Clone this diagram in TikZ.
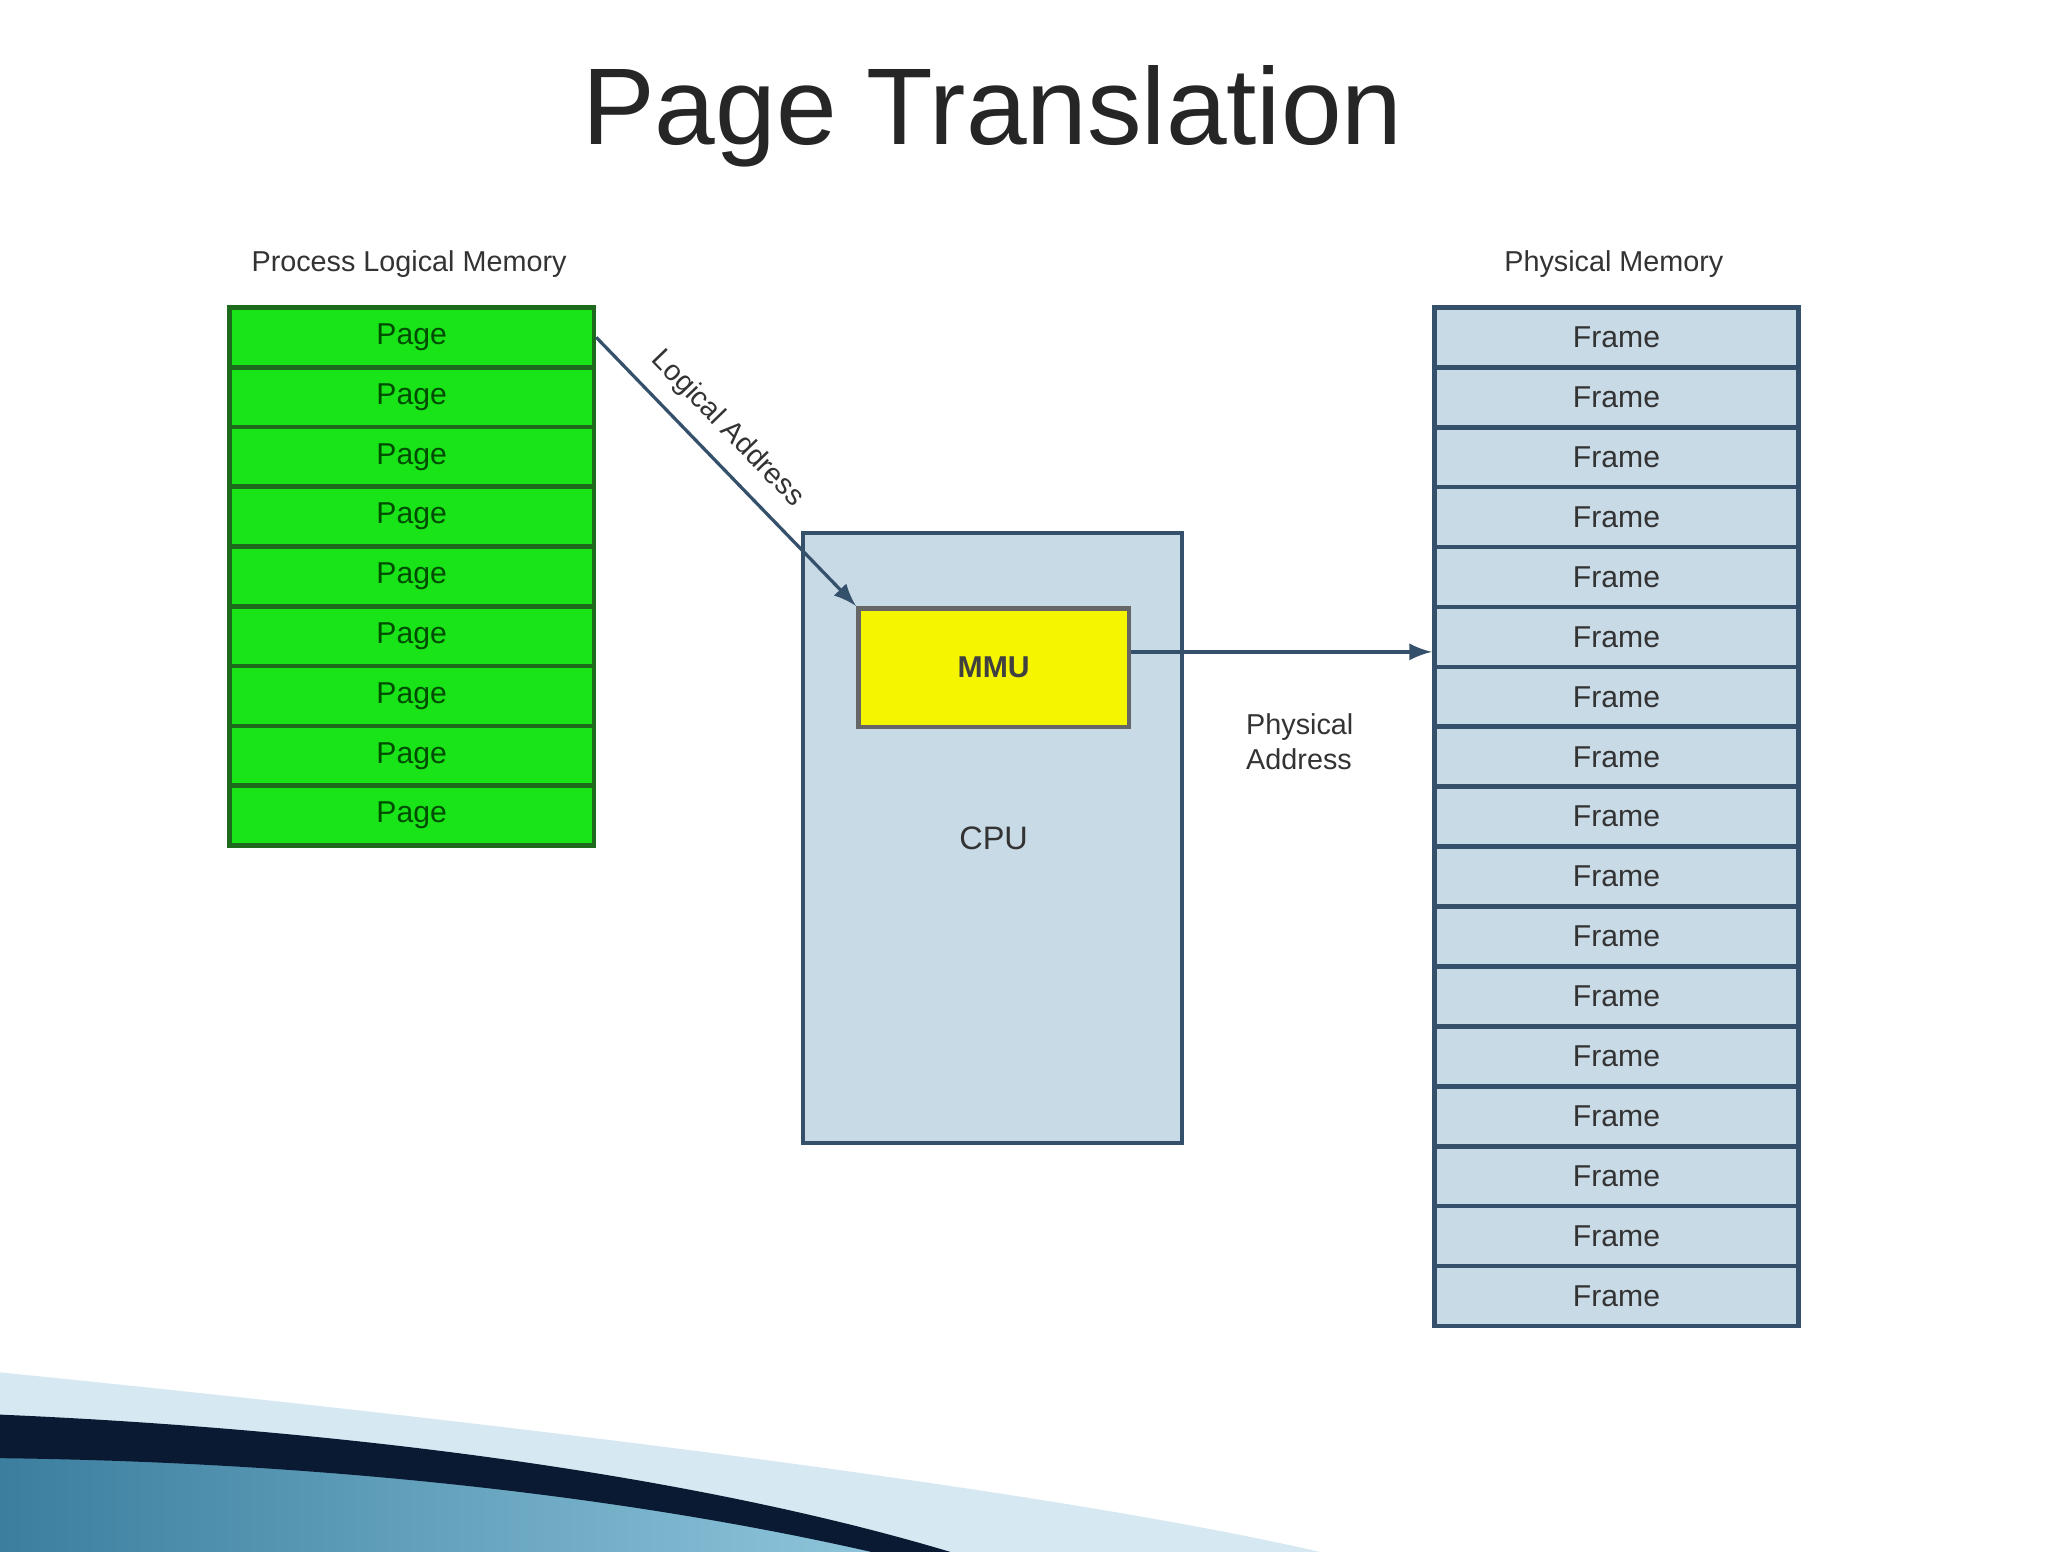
\documentclass[tikz,border=0pt]{standalone}
\usepackage{fontspec}
\setmainfont{Liberation Sans}
\definecolor{pg}{HTML}{18E418}
\definecolor{pgb}{HTML}{1D6A1D}
\definecolor{fr}{HTML}{C8DAE6}
\definecolor{frb}{HTML}{34506A}
\definecolor{mm}{HTML}{F5F500}
\definecolor{navy}{HTML}{0B1A33}
\definecolor{sky}{HTML}{4FA9CC}
\definecolor{pale}{HTML}{D6E8F1}
\begin{document}
\begin{tikzpicture}[x=0.01cm,y=-0.01cm,
  page/.style={draw=pgb,line width=1pt,fill=pg,minimum width=2.76cm,minimum height=0.453cm,inner sep=0,font=\fontsize{6.5}{8}\selectfont,text=black!70!green},
  frame/.style={draw=frb,line width=1pt,fill=fr,minimum width=2.76cm,minimum height=0.454cm,inner sep=0,font=\fontsize{6.5}{8}\selectfont,text=black!80},
  lbl/.style={font=\fontsize{6.2}{7.5}\selectfont,text=black!80},
  arr/.style={draw=frb,line width=0.7pt,-latex}]
\useasboundingbox (0,0) rectangle (1552,1176);
\fill[white] (0,0) rectangle (1552,1176);
% swoosh
\fill[pale] (0,1040) .. controls (400,1080) and (800,1130) .. (1000,1176) -- (0,1176) -- cycle;
\shade[left color=sky!70!navy,right color=sky!60!white] (0,1090) .. controls (300,1110) and (550,1140) .. (720,1176) -- (0,1176) -- cycle;
\fill[navy] (0,1072) .. controls (300,1085) and (550,1125) .. (720,1176) -- (660,1176) .. controls (480,1135) and (250,1108) .. (0,1105) -- cycle;
\node[font=\fontsize{23.5}{28}\selectfont,text=black!85] (title) at (752,88) {Page Translation};
\node[lbl] (plm) at (310,200) {Process Logical Memory};
\node[lbl] (pm) at (1223,200) {Physical Memory};
\foreach \i in {1,...,9}{\node[page] (p\i) at (312,{233+22.65+(\i-1)*45.3}) {Page};}
\foreach \i in {1,...,17}{\node[frame] (f\i) at (1225,{233+22.7+(\i-1)*45.4}) {Frame};}
\node[draw=frb,line width=1pt,fill=fr,minimum width=2.87cm,minimum height=4.62cm] (cpu) at (752,635) {};
\node[font=\fontsize{7}{8}\selectfont,text=black!80] (cpul) at (753,635) {CPU};
\node[draw=black!60,line width=1pt,fill=mm,minimum width=2.05cm,minimum height=0.9cm,font=\fontsize{6.5}{8}\selectfont\bfseries,text=black!75] (mmu) at (753,506) {MMU};
\draw[arr] (p1.east) -- (mmu.north west) node[pos=0.42,sloped,above,lbl] {Logical Address};
\draw[arr] (mmu.east |- 0,494) -- (f6.west |- 0,494);
\node[lbl,align=left] (pa) at (985,562) {Physical\\Address};
\end{tikzpicture}
\end{document}
